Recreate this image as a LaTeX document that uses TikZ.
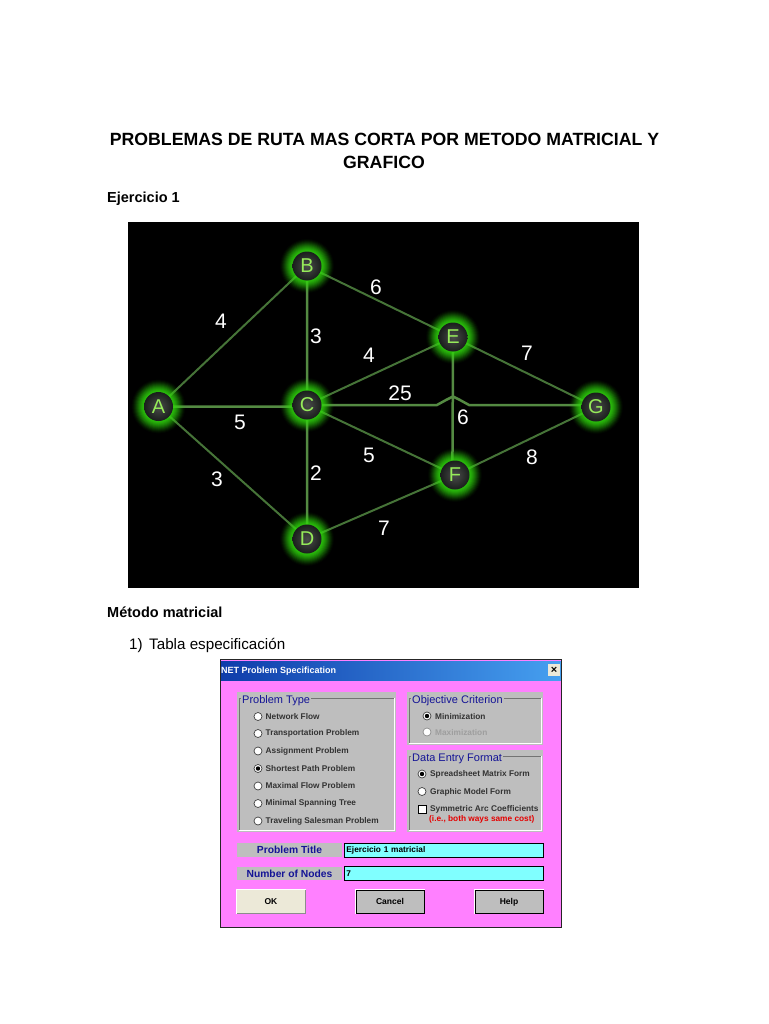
\documentclass[tikz,border=0pt]{standalone}
\usepackage{fontspec}
\setmainfont{Liberation Sans}
\pgfdeclarelayer{backl}\pgfdeclarelayer{midl}
\pgfsetlayers{backl,midl,main}
\definecolor{edgeg}{RGB}{84,138,66}
\definecolor{edged}{RGB}{70,116,56}
\definecolor{glowg}{RGB}{50,215,15}
\definecolor{lett}{RGB}{150,235,90}
\definecolor{ballin}{RGB}{74,76,74}
\definecolor{ballout}{RGB}{26,30,28}
\definecolor{pinkbg}{RGB}{255,128,255}
\definecolor{panelg}{RGB}{190,190,190}
\definecolor{cyanin}{RGB}{128,255,255}
\definecolor{navyt}{RGB}{20,20,150}
\definecolor{barl}{RGB}{70,160,240}
\definecolor{bard}{RGB}{15,60,170}
\definecolor{cream}{RGB}{236,233,216}
\tikzset{x=1pt,y=-1pt,
 gnode/.style={circle,minimum size=29pt,inner sep=0pt,inner color=ballin,outer color=ballout,text=lett,font=\fontsize{20}{20}\selectfont},
 gedge/.style={draw=edgeg,line width=2.5pt},
 dedge/.style={draw=edged,line width=2pt},
 wlabel/.style={text=white,inner sep=0pt,font=\fontsize{21}{21}\selectfont},
 head/.style={anchor=west,inner sep=0pt,font=\bfseries\fontsize{14.5}{14.5}\selectfont},
 ttl/.style={inner sep=0pt,font=\bfseries\fontsize{17.7}{17.7}\selectfont},
 panel/.style={fill=panelg,draw=none},
 grpd/.style={draw=black!55,line width=.6pt},
 grpl/.style={draw=white,line width=.8pt},
 grpt/.style={anchor=west,inner sep=1pt,fill=panelg,text=navyt,font=\fontsize{11}{11}\selectfont},
 opt/.style={anchor=west,inner sep=0pt,font=\bfseries\fontsize{8.3}{8.3}\selectfont,text=black!80},
 radio/.style={circle,minimum size=8pt,inner sep=0pt,fill=white,draw=black!75,line width=.7pt},
 inbox/.style={anchor=west,fill=cyanin,draw=black,line width=.9pt,minimum width=199pt,minimum height=14pt,inner sep=1pt,text=black,font=\bfseries\fontsize{8.3}{8.3}\selectfont,align=left,text width=195pt},
 lab/.style={fill=panelg,minimum width=105pt,minimum height=13.5pt,inner sep=0pt,text=navyt,font=\bfseries\fontsize{10.3}{10.3}\selectfont},
 btn/.style={fill=panelg,draw=black,line width=1pt,minimum width=68pt,minimum height=23pt,inner sep=0pt,text height=6pt,text depth=0pt,font=\bfseries\fontsize{8.5}{8.5}\selectfont},
}
\begin{document}
\begin{tikzpicture}
\useasboundingbox (0,0) rectangle (768,1024);
\begin{pgfonlayer}{backl}
\fill[white] (0,0) rectangle (768,1024);
\fill[black] (128,222) rectangle (639,588);
\end{pgfonlayer}
\node[ttl] (t1) at (384.5,139) {PROBLEMAS DE RUTA MAS CORTA POR METODO MATRICIAL Y};
\node[ttl] (t2) at (384,162.5) {GRAFICO};
\node[head] (h1) at (107,199) {Ejercicio 1};
\node[head] (h2) at (107,612) {Método matricial};
\node[anchor=west,inner sep=0pt,font=\fontsize{15.2}{15.2}\selectfont] (h3) at (129,645) {1)\hspace{6.5pt}Tabla especificación};

% network
\node[gnode] (A) at (158.5,406.5) {A};
\node[gnode] (B) at (307,266) {B};
\node[gnode] (C) at (307,405) {C};
\node[gnode] (D) at (307,539) {D};
\node[gnode] (E) at (453,337) {E};
\node[gnode] (F) at (455,475) {F};
\node[gnode] (G) at (596,407) {G};
\begin{pgfonlayer}{midl}
\foreach \n in {A,B,C,D,E,F,G}{
 \foreach \r/\o in {27/.03,26/.05,25/.07,24/.09,23/.11,22/.13,21/.15,20/.17,19/.19,18/.21,17/.23,16/.25,15/.27,14/.3}{\fill[glowg,opacity=\o] (\n) circle (\r pt);}
}
\end{pgfonlayer}
\begin{pgfonlayer}{backl}
\coordinate (h1a) at (437,405);
\coordinate (h1b) at (446,400);
\coordinate (h1c) at (453,396.5);
\coordinate (h1d) at (460,400);
\coordinate (h1e) at (469,405);
\draw[dedge] (A)--(B) (A)--(D) (B)--(E) (C)--(E) (C)--(F) (D)--(F) (E)--(G) (F)--(G);
\draw[gedge] (A.east)--(A.east -| C.west) (B)--(C) (C)--(D) (E.south)--(F.100);
\draw[gedge,line join=round] (C)--(h1a)--(h1b)--(h1c)--(h1d)--(h1e)--(h1e -| G.west);
\end{pgfonlayer}
\node[wlabel] (l4) at (221,321) {4};
\node[wlabel] (l6a) at (376,287) {6};
\node[wlabel] (l3a) at (316,336.5) {3};
\node[wlabel] (l4b) at (369,355) {4};
\node[wlabel] (l7a) at (527,353) {7};
\node[wlabel] (l25) at (400,393) {25};
\node[wlabel] (l5a) at (240,422) {5};
\node[wlabel] (l6b) at (463,417) {6};
\node[wlabel] (l5b) at (369,455) {5};
\node[wlabel] (l3b) at (217,479) {3};
\node[wlabel] (l2) at (316,473) {2};
\node[wlabel] (l8) at (532,457) {8};
\node[wlabel] (l7b) at (384,528) {7};

% dialog
\fill[pinkbg] (220.5,659.5) rectangle (561.5,927.5);
\shade[left color=bard,right color=barl] (221,661) rectangle (561,680);
\draw[black!85,line width=1pt] (220.5,659.5) rectangle (561.5,927.5);
\node[anchor=west,inner sep=0pt,text=white,font=\bfseries\fontsize{9}{9}\selectfont] (dt) at (221,671) {NET Problem Specification};
\node[fill=cream,minimum width=12pt,minimum height=12pt,inner sep=0pt,font=\bfseries\fontsize{11}{11}\selectfont] (cl) at (554,670) {×};

\fill[panel] (237,692) rectangle (396,832);
\fill[panel] (407,692) rectangle (543,745);
\fill[panel] (407,750) rectangle (543,832);
\draw[grpd] (239,830) -- (239,698) -- (394,698);
\draw[grpl] (394,698) -- (394,830) -- (239,830);
\draw[grpd] (409,743) -- (409,698) -- (541,698);
\draw[grpl] (541,698) -- (541,743) -- (409,743);
\draw[grpd] (409,830) -- (409,756) -- (541,756);
\draw[grpl] (541,756) -- (541,830) -- (409,830);
\node[grpt] (g1) at (241,700.5) {Problem Type};
\node[grpt] (g2) at (411,700.5) {Objective Criterion};
\node[grpt] (g3) at (411,759) {Data Entry Format};

\foreach \i/\y/\t in {a/716.5/Network Flow,b/733.5/Transportation Problem,c/751/Assignment Problem,d/768.5/Shortest Path Problem,e/786/Maximal Flow Problem,f/803.5/Minimal Spanning Tree,g/821/Traveling Salesman Problem}{
 \node[radio] (r\i) at (258,\y) {};
 \node[opt] (o\i) at (265.5,\y) {\t};
}
\fill[black] (rd) circle (2.2pt);
\node[radio] (rm1) at (427,716) {};
\fill[black] (rm1) circle (2.2pt);
\node[opt] (om1) at (435,716.5) {Minimization};
\node[radio,draw=black!45] (rm2) at (427,732) {};
\node[opt,text=black!38] (om2) at (435,732.5) {Maximization};
\node[radio] (rs1) at (422,774) {};
\fill[black] (rs1) circle (2.2pt);
\node[opt] (os1) at (430,774.5) {Spreadsheet Matrix Form};
\node[radio] (rs2) at (422,791.5) {};
\node[opt] (os2) at (430,792) {Graphic Model Form};
\node[fill=white,draw=black,line width=.7pt,minimum size=8.5pt,inner sep=0pt] (cb) at (422.5,809.5) {};
\node[opt] (os3) at (430,809.5) {Symmetric Arc Coefficients};
\node[opt,text=red!90!black] (os4) at (429,819.5) {(i.e., both ways same cost)};

\node[lab] (pt) at (289.5,850) {Problem Title};
\node[lab] (nn) at (289.5,873.5) {Number of Nodes};
\node[inbox] (i1) at (344,850) {Ejercicio 1 matricial};
\node[inbox] (i2) at (344,873.5) {7};
\node[btn,fill=cream,draw=none] (ok) at (271,901.5) {OK};
\node[btn] (can) at (390,901.5) {Cancel};
\node[btn] (hlp) at (509,901.5) {Help};
\draw[white,line width=1pt] (ok.south west) -- (ok.north west) -- (ok.north east);
\draw[black!45,line width=1pt] (ok.north east) -- (ok.south east) -- (ok.south west);
\draw[white,line width=1pt] (can.south west) -- (can.north west) -- (can.north east);
\draw[white,line width=1pt] (hlp.south west) -- (hlp.north west) -- (hlp.north east);
\end{tikzpicture}
\end{document}
